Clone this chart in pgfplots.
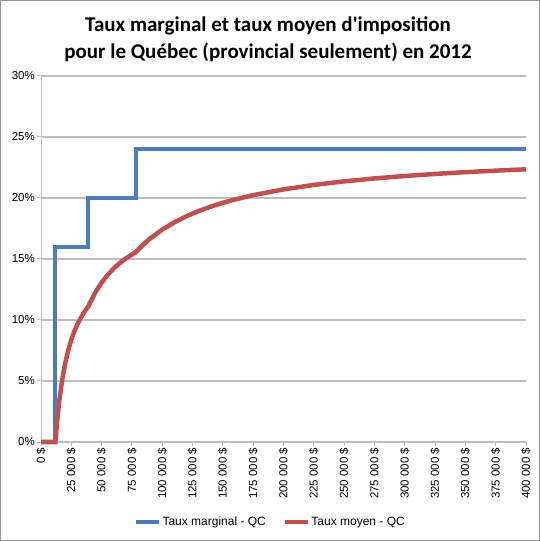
\documentclass[border=0pt]{standalone}
\usepackage{fontspec}
\setmainfont{Liberation Sans}
\newfontfamily\titlefont{Carlito}
\usepackage{pgfplots}
\pgfplotsset{compat=1.18}
\definecolor{marg}{RGB}{74,126,187}
\definecolor{moy}{RGB}{192,80,77}
\definecolor{grille}{RGB}{190,190,190}
\definecolor{cadre}{RGB}{150,150,150}

\begin{document}
\begin{tikzpicture}
\begin{axis}[
  name=ax,
  scale only axis,
  width=485bp, height=366bp,
  xmin=0, xmax=400000,
  ymin=0, ymax=30,
  axis lines=left,
  axis line style={-, grille, line width=1bp},
  xtick={0,25000,...,400000},
  xticklabels={0 \$,25 000 \$,50 000 \$,75 000 \$,100 000 \$,125 000 \$,150 000 \$,175 000 \$,200 000 \$,225 000 \$,250 000 \$,275 000 \$,300 000 \$,325 000 \$,350 000 \$,375 000 \$,400 000 \$},
  x tick label style={rotate=90, anchor=east, font=\fontsize{11.5bp}{13bp}\selectfont, inner sep=1.5bp},
  scaled x ticks=false,
  ytick={0,5,...,30},
  yticklabel={\pgfmathprintnumber{\tick}\%},
  y tick label style={font=\fontsize{11.5bp}{13bp}\selectfont, inner sep=2bp},
  /pgf/number format/assume math mode=true,
  tick align=outside,
  major tick length=4bp,
  tick style={grille, line width=1bp},
  ymajorgrids,
  grid style={grille, line width=1.3bp},
  legend columns=2,
  legend style={draw=none, at={(0.472,-0.2186)}, anchor=center,
    font=\fontsize{12bp}{14bp}\selectfont,
    /tikz/every odd column/.append style={column sep=0bp},
    /tikz/every even column/.append style={column sep=16bp},
    nodes={inner sep=1bp}},
  legend image code/.code={\draw[#1, line width=4.5bp] (0bp,0bp) -- (23bp,0bp);},
  clip=false,
]
\addplot[marg, line width=4bp] coordinates {
  (0,0) (11900,0) (11900,16) (39060,16) (39060,20) (78120,20) (78120,24) (400000,24)
};
\addlegendentry{Taux marginal - QC}
\addplot[moy, line width=4.5bp] coordinates {
  (0,0) (11900,0) (12500,0.768) (13500,1.896) (15000,3.307) (17500,5.12)
  (20000,6.48) (22500,7.538) (25000,8.384) (27500,9.076) (30000,9.653)
  (35000,10.56) (39060,11.125) (45000,12.297) (50000,13.067) (55000,13.697)
  (60000,14.223) (65000,14.667) (70000,15.048) (78120,15.563) (85000,16.246)
  (90000,16.676) (100000,17.409) (110000,18.008) (120000,18.507) (130000,18.930)
  (140000,19.292) (150000,19.606) (160000,19.880) (175000,20.234) (200000,20.704)
  (225000,21.071) (250000,21.364) (275000,21.603) (300000,21.803) (325000,21.972)
  (350000,22.117) (375000,22.242) (400000,22.352)
};
\addlegendentry{Taux moyen - QC}
\end{axis}
\node[font=\titlefont\bfseries\fontsize{21bp}{25bp}\selectfont, anchor=base]
  at ([shift={(227bp,44bp)}]ax.north west) {Taux marginal et taux moyen d'imposition};
\node[font=\titlefont\bfseries\fontsize{21bp}{25bp}\selectfont, anchor=base]
  at ([shift={(227bp,17bp)}]ax.north west) {pour le Québec (provincial seulement) en 2012};
\draw[cadre, line width=1bp]
  ([shift={(-40.5bp,-98.5bp)}]ax.south west) rectangle ([shift={(13.5bp,75.5bp)}]ax.north east);
\end{tikzpicture}
\end{document}
